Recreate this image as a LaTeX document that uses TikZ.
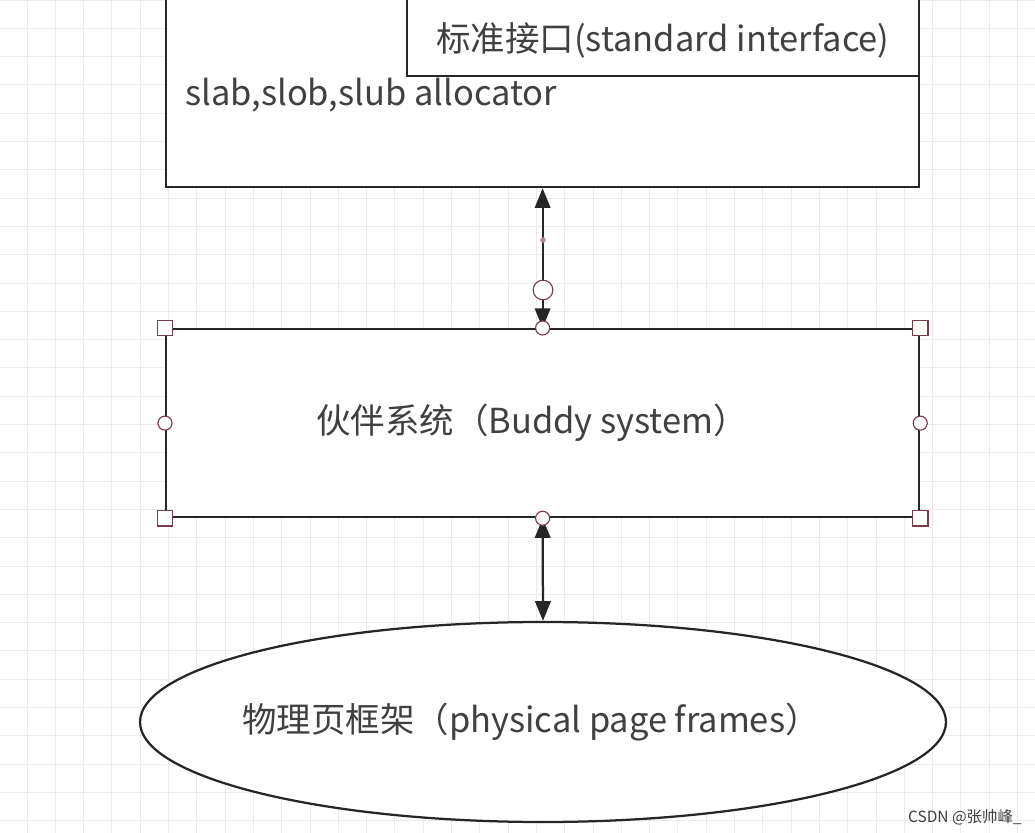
\documentclass[tikz,border=0pt]{standalone}
\usepackage{fontspec}
\setmainfont{Noto Sans CJK SC}
\usetikzlibrary{arrows.meta,shapes.geometric}
\definecolor{gridc}{HTML}{EBEBEB}
\definecolor{txt}{HTML}{404040}
\definecolor{handle}{HTML}{7A3A48}
\tikzset{
  px/.style={x=0.025cm,y=-0.025cm},
  box/.style={draw=black!85,line width=1.6pt,fill=white},
  lbl/.style={text=txt,font=\fontsize{24.5}{28}\selectfont,inner sep=0pt},
  dbl/.style={{Triangle[length=14pt,width=11pt]}-{Triangle[length=14pt,width=11pt]},line width=1.6pt,draw=black!85},
  hsq/.style={draw=handle,fill=white,line width=0.8pt,minimum size=11pt,inner sep=0pt,rectangle},
  hci/.style={draw=handle,fill=white,line width=0.8pt,minimum size=10pt,inner sep=0pt,circle}
}
\begin{document}
\begin{tikzpicture}[px]
\fill[white] (0,0) rectangle (1035,833);
\useasboundingbox (0,0) rectangle (1035,833);
\foreach \i in {0,...,36} {\draw[gridc,line width=0.6pt] ({27+28.3*\i-28.3},0) -- ({27+28.3*\i-28.3},833);}
\foreach \j in {0,...,30} {\draw[gridc,line width=0.6pt] (0,{28.3*\j}) -- (1035,{28.3*\j});}
% top box
\node[box,minimum width=753*0.025cm,minimum height=188*0.025cm,anchor=north west,inner sep=0pt] (alloc) at (165,-2) {};
\node[box,minimum width=512*0.025cm,minimum height=77*0.025cm,anchor=north east,inner sep=0pt] (iface) at (alloc.north east) {};
\node[lbl] (ifacet) at (663,40) {标准接口(standard interface)};
\node[lbl,anchor=west] (alloct) at (185,95) {slab,slob,slub allocator};
% buddy
\node[box,minimum width=753*0.025cm,minimum height=188*0.025cm,anchor=north west,inner sep=0pt] (buddy) at (165,328) {};
\node[lbl] (buddyt) at (532,423) {伙伴系统（Buddy system）};
% ellipse
\node[draw=black!85,line width=1.6pt,ellipse,minimum width=806*0.025cm,minimum height=200*0.025cm,inner sep=0pt,fill=white] (frames) at (543,722) {};
\node[lbl] (framest) at (531,722) {物理页框架（physical page frames）};
% arrows
\draw[dbl] (alloc.south) -- (buddy.north);
\draw[dbl] (buddy.south) -- (frames.north);
\node[hci,minimum size=14pt] (c1) at (543,290) {};
\node[circle,fill=handle!60,inner sep=0pt,minimum size=4pt] (c2) at (543,240) {};
% handles
\foreach \a in {north west,north east,south west,south east} \node[hsq] at (buddy.\a) {};
\foreach \a in {north,south,east,west} \node[hci] at (buddy.\a) {};
\node[text=txt,font=\fontsize{11}{13}\selectfont,anchor=south east,inner sep=0pt] (wm) at (1022,825) {CSDN @张帅峰\_};
\end{tikzpicture}
\end{document}
